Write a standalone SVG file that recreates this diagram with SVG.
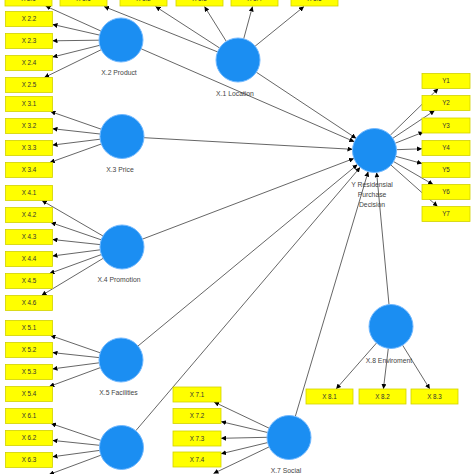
<svg xmlns="http://www.w3.org/2000/svg" width="474" height="474" viewBox="0 0 474 474">
<defs>
<marker id="ah" markerUnits="userSpaceOnUse" markerWidth="5" markerHeight="5" refX="5" refY="2.5" orient="auto">
<path d="M0,0 L5,2.5 L0,5 z" fill="#000"/>
</marker>
<style>
.c{fill:#1B8EF2;stroke:#70B8FF;stroke-width:1}
.b{fill:#FFFF00;stroke:#D2D200;stroke-width:0.8}
.bt{font-family:"Liberation Sans",Arial,sans-serif;font-size:6.3px;fill:#333;text-anchor:middle}
.lb{font-family:"Liberation Sans",Arial,sans-serif;font-size:6.8px;fill:#444;text-anchor:middle}
#connectors line{stroke:#555;stroke-width:0.9;fill:none;marker-end:url(#ah)}
</style>
</defs>
<rect width="474" height="474" fill="#fff"/>
<g id="connectors">
<!-- X.2 indicators -->
<line x1="100.9" y1="31" x2="45.6" y2="6"/>
<line x1="99.6" y1="35.1" x2="52.5" y2="24.4"/>
<line x1="99" y1="40.2" x2="52.5" y2="40.8"/>
<line x1="99.7" y1="45.3" x2="52.5" y2="57.1"/>
<line x1="101.2" y1="49.7" x2="44.3" y2="77.5"/>
<!-- X.3 -->
<line x1="101.2" y1="129.2" x2="50.5" y2="111.5"/>
<line x1="100.1" y1="134" x2="52.5" y2="128.7"/>
<line x1="100.2" y1="139.2" x2="52.5" y2="145.1"/>
<line x1="101.3" y1="144" x2="49.8" y2="162.5"/>
<!-- X.4 -->
<line x1="103" y1="236" x2="41.9" y2="200.5"/>
<line x1="101.2" y1="239.8" x2="50.8" y2="222.5"/>
<line x1="100.1" y1="244.6" x2="52.5" y2="239.5"/>
<line x1="100.2" y1="249.8" x2="52.5" y2="256"/>
<line x1="101.3" y1="254.6" x2="49.5" y2="273.5"/>
<line x1="103.2" y1="258.3" x2="41.5" y2="295.5"/>
<!-- X.5 -->
<line x1="100.2" y1="352.8" x2="50.5" y2="335.5"/>
<line x1="99.1" y1="357.6" x2="52.5" y2="352.6"/>
<line x1="99.2" y1="362.8" x2="52.5" y2="368.9"/>
<line x1="100.4" y1="367.6" x2="49.3" y2="386.5"/>
<!-- X.6 -->
<line x1="100.7" y1="440.4" x2="51" y2="423.5"/>
<line x1="99.6" y1="445.3" x2="52.5" y2="440.4"/>
<line x1="99.7" y1="450.4" x2="52.5" y2="456.8"/>
<line x1="100.9" y1="455.2" x2="49.1" y2="474.5"/>
<!-- X.1 -->
<line x1="217.6" y1="51.9" x2="104" y2="6.5"/>
<line x1="219.6" y1="48" x2="155.5" y2="6.5"/>
<line x1="226.3" y1="41.4" x2="204.5" y2="6.5"/>
<line x1="243.7" y1="38.8" x2="252.5" y2="6.5"/>
<line x1="255.1" y1="46.2" x2="304" y2="6.5"/>
<!-- Y -->
<line x1="390.3" y1="135.2" x2="438.3" y2="88.5"/>
<line x1="392.8" y1="138.3" x2="434.7" y2="110.5"/>
<line x1="395.3" y1="143.2" x2="423.5" y2="132"/>
<line x1="396.5" y1="149.7" x2="422" y2="148.8"/>
<line x1="395.7" y1="156.3" x2="422" y2="163.5"/>
<line x1="393.5" y1="161.5" x2="433.1" y2="184.5"/>
<line x1="391" y1="165.1" x2="437.6" y2="206.5"/>
<!-- X.7 -->
<line x1="269.1" y1="428.2" x2="214" y2="402"/>
<line x1="267.6" y1="432.5" x2="221" y2="421.6"/>
<line x1="267" y1="437.3" x2="221" y2="438.3"/>
<line x1="267.6" y1="442.6" x2="221" y2="453.8"/>
<line x1="269.1" y1="446.9" x2="213.5" y2="473.5"/>
<!-- X.8 -->
<line x1="376.5" y1="343" x2="336.1" y2="389"/>
<line x1="388.3" y1="348.3" x2="383.4" y2="389"/>
<line x1="402.6" y1="345.2" x2="429.8" y2="389"/>
<!-- structural -->
<line x1="256.3" y1="72.2" x2="356.2" y2="138.4"/>
<line x1="141.2" y1="48.8" x2="354.3" y2="141.7"/>
<line x1="144" y1="137.7" x2="352.5" y2="149.3"/>
<line x1="142.5" y1="239.1" x2="354" y2="158.4"/>
<line x1="138" y1="346" x2="357.5" y2="164.5"/>
<line x1="135.8" y1="430.7" x2="360.2" y2="167.3"/>
<line x1="295.3" y1="416.4" x2="368.2" y2="171.6"/>
<line x1="389" y1="304.6" x2="376.6" y2="172.4"/>
</g>
<!-- latent nodes -->
<g id="X1"><circle class="c" cx="238" cy="60" r="22"/><text class="lb" x="235" y="96.4">X.1 Location</text></g>
<g id="X2"><circle class="c" cx="121" cy="40" r="22"/><text class="lb" x="119" y="75.4">X.2 Product</text></g>
<g id="X3"><circle class="c" cx="122" cy="136.5" r="22"/><text class="lb" x="120" y="172.4">X.3 Price</text></g>
<g id="X4"><circle class="c" cx="122" cy="247" r="22"/><text class="lb" x="119" y="282.4">X.4 Promotion</text></g>
<g id="X5"><circle class="c" cx="121" cy="360" r="22"/><text class="lb" x="118.5" y="395.4">X.5 Facilities</text></g>
<g id="X6"><circle class="c" cx="121.5" cy="447.5" r="22"/></g>
<g id="X7"><circle class="c" cx="289" cy="437.5" r="22"/><text class="lb" x="286" y="473.4">X.7 Social</text></g>
<g id="X8"><circle class="c" cx="391" cy="326.5" r="22"/><text class="lb" x="389" y="363.4">X.8 Enviroment</text></g>
<g id="Y"><circle class="c" cx="374.5" cy="150.5" r="22"/><text class="lb" x="372" y="187.4">Y Residensial</text><text class="lb" x="372" y="197.4">Purchase</text><text class="lb" x="372" y="207.4">Decision</text></g>
<!-- top indicator boxes -->
<g id="X2_1"><rect class="b" x="5" y="-9" width="47" height="15"/><text class="bt" x="28.5" y="0.7">X 2.1</text></g>
<g id="X1_1"><rect class="b" x="60" y="-9" width="47" height="15"/><text class="bt" x="83.5" y="0.7">X 1.1</text></g>
<g id="X1_2"><rect class="b" x="120" y="-9" width="47" height="15"/><text class="bt" x="143.5" y="0.7">X 1.2</text></g>
<g id="X1_3"><rect class="b" x="176" y="-9" width="47" height="15"/><text class="bt" x="199.5" y="0.7">X 1.3</text></g>
<g id="X1_4"><rect class="b" x="231" y="-9" width="47" height="15"/><text class="bt" x="254.5" y="0.7">X 1.4</text></g>
<g id="X1_5"><rect class="b" x="291" y="-9" width="47" height="15"/><text class="bt" x="314.5" y="0.7">X 1.5</text></g>
<!-- left column -->
<g id="X2_2"><rect class="b" x="5.5" y="11.5" width="47" height="15"/><text class="bt" x="29" y="21.2">X 2.2</text></g>
<g id="X2_3"><rect class="b" x="5.5" y="33.5" width="47" height="15"/><text class="bt" x="29" y="43.2">X 2.3</text></g>
<g id="X2_4"><rect class="b" x="5.5" y="55.5" width="47" height="15"/><text class="bt" x="29" y="65.2">X 2.4</text></g>
<g id="X2_5"><rect class="b" x="5.5" y="77.5" width="47" height="15"/><text class="bt" x="29" y="87.2">X 2.5</text></g>
<g id="X3_1"><rect class="b" x="5.5" y="96.5" width="47" height="15"/><text class="bt" x="29" y="106.2">X 3.1</text></g>
<g id="X3_2"><rect class="b" x="5.5" y="118.5" width="47" height="15"/><text class="bt" x="29" y="128.2">X 3.2</text></g>
<g id="X3_3"><rect class="b" x="5.5" y="140.5" width="47" height="15"/><text class="bt" x="29" y="150.2">X 3.3</text></g>
<g id="X3_4"><rect class="b" x="5.5" y="162.5" width="47" height="15"/><text class="bt" x="29" y="172.2">X 3.4</text></g>
<g id="X4_1"><rect class="b" x="5.5" y="185.5" width="47" height="15"/><text class="bt" x="29" y="195.2">X 4.1</text></g>
<g id="X4_2"><rect class="b" x="5.5" y="207.5" width="47" height="15"/><text class="bt" x="29" y="217.2">X 4.2</text></g>
<g id="X4_3"><rect class="b" x="5.5" y="229.5" width="47" height="15"/><text class="bt" x="29" y="239.2">X 4.3</text></g>
<g id="X4_4"><rect class="b" x="5.5" y="251.5" width="47" height="15"/><text class="bt" x="29" y="261.2">X 4.4</text></g>
<g id="X4_5"><rect class="b" x="5.5" y="273.5" width="47" height="15"/><text class="bt" x="29" y="283.2">X 4.5</text></g>
<g id="X4_6"><rect class="b" x="5.5" y="295.5" width="47" height="15"/><text class="bt" x="29" y="305.2">X 4.6</text></g>
<g id="X5_1"><rect class="b" x="5.5" y="320.5" width="47" height="15"/><text class="bt" x="29" y="330.2">X 5.1</text></g>
<g id="X5_2"><rect class="b" x="5.5" y="342.5" width="47" height="15"/><text class="bt" x="29" y="352.2">X 5.2</text></g>
<g id="X5_3"><rect class="b" x="5.5" y="364.5" width="47" height="15"/><text class="bt" x="29" y="374.2">X 5.3</text></g>
<g id="X5_4"><rect class="b" x="5.5" y="386.5" width="47" height="15"/><text class="bt" x="29" y="396.2">X 5.4</text></g>
<g id="X6_1"><rect class="b" x="5.5" y="408.5" width="47" height="15"/><text class="bt" x="29" y="418.2">X 6.1</text></g>
<g id="X6_2"><rect class="b" x="5.5" y="430.5" width="47" height="15"/><text class="bt" x="29" y="440.2">X 6.2</text></g>
<g id="X6_3"><rect class="b" x="5.5" y="452.5" width="47" height="15"/><text class="bt" x="29" y="462.2">X 6.3</text></g>
<g id="X6_4"><rect class="b" x="5.5" y="474.5" width="47" height="15"/></g>
<!-- Y indicators -->
<g id="Y1"><rect class="b" x="422" y="73.5" width="48" height="15"/><text class="bt" x="446" y="83.2">Y1</text></g>
<g id="Y2"><rect class="b" x="422" y="95.5" width="48" height="15"/><text class="bt" x="446" y="105.2">Y2</text></g>
<g id="Y3"><rect class="b" x="422" y="118" width="48" height="15"/><text class="bt" x="446" y="127.7">Y3</text></g>
<g id="Y4"><rect class="b" x="422" y="140.5" width="48" height="15"/><text class="bt" x="446" y="150.2">Y4</text></g>
<g id="Y5"><rect class="b" x="422" y="162.5" width="48" height="15"/><text class="bt" x="446" y="172.2">Y5</text></g>
<g id="Y6"><rect class="b" x="422" y="184.5" width="48" height="15"/><text class="bt" x="446" y="194.2">Y6</text></g>
<g id="Y7"><rect class="b" x="422" y="206.5" width="48" height="15"/><text class="bt" x="446" y="216.2">Y7</text></g>
<!-- X.7 indicators -->
<g id="X7_1"><rect class="b" x="173" y="387" width="48" height="15"/><text class="bt" x="197" y="396.7">X 7.1</text></g>
<g id="X7_2"><rect class="b" x="173" y="408.5" width="48" height="15"/><text class="bt" x="197" y="418.2">X 7.2</text></g>
<g id="X7_3"><rect class="b" x="173" y="431" width="48" height="15"/><text class="bt" x="197" y="440.7">X 7.3</text></g>
<g id="X7_4"><rect class="b" x="173" y="452" width="48" height="15"/><text class="bt" x="197" y="461.7">X 7.4</text></g>
<!-- X.8 indicators -->
<g id="X8_1"><rect class="b" x="306" y="389" width="47" height="15"/><text class="bt" x="329.5" y="398.7">X 8.1</text></g>
<g id="X8_2"><rect class="b" x="359" y="389" width="47" height="15"/><text class="bt" x="382.5" y="398.7">X 8.2</text></g>
<g id="X8_3"><rect class="b" x="411" y="389" width="47" height="15"/><text class="bt" x="434.5" y="398.7">X 8.3</text></g>
</svg>
